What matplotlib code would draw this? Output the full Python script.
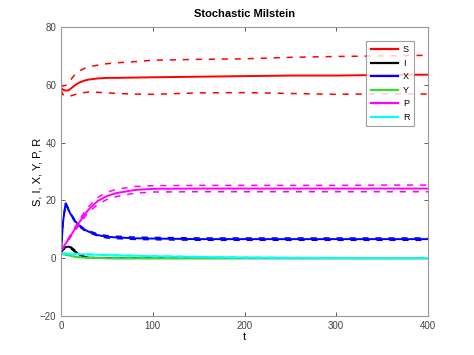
import matplotlib
matplotlib.use("Agg")
import matplotlib.pyplot as plt

t = [0, 2, 5, 8, 10, 15, 20, 25, 30, 40, 50, 60, 80, 100, 150, 200, 250, 300, 350, 400]

S_mean = [59, 58.3, 58.0, 58.1, 58.5, 59.8, 60.8, 61.4, 61.8, 62.2, 62.4, 62.4, 62.5, 62.6, 62.8, 63.0, 63.2, 63.2, 63.4, 63.5]
S_up = [60, 59.6, 59.8, 60.5, 61.5, 63.5, 64.8, 65.6, 66.2, 66.8, 67.3, 67.6, 68.0, 68.5, 68.8, 69.0, 69.5, 69.8, 70.0, 70.2]
S_lo = [58.2, 56.6, 56.2, 56.0, 56.1, 56.6, 57.1, 57.3, 57.5, 57.4, 57.2, 57.0, 56.8, 56.7, 57.2, 57.3, 57.0, 56.7, 56.9, 56.8]

I_mean = [1.8, 3.0, 3.8, 4.0, 3.8, 2.5, 1.2, 0.5, 0.2, 0.08, 0.03, 0.0, 0, 0, 0, 0, 0, 0, 0, 0]
I_up = [1.9, 3.2, 4.1, 4.3, 4.1, 2.8, 1.4, 0.65, 0.3, 0.12, 0.05, 0.02, 0, 0, 0, 0, 0, 0, 0, 0]
I_lo = [1.7, 2.8, 3.5, 3.7, 3.5, 2.2, 1.0, 0.35, 0.1, 0.04, 0.01, 0.0, 0, 0, 0, 0, 0, 0, 0, 0]

X_mean = [1.5, 12.0, 19.0, 17.0, 15.5, 13.0, 11.2, 10.0, 9.2, 8.0, 7.4, 7.2, 6.9, 6.8, 6.6, 6.6, 6.6, 6.6, 6.6, 6.6]
X_up = [1.6, 12.3, 19.3, 17.3, 15.8, 13.3, 11.5, 10.3, 9.5, 8.4, 7.8, 7.6, 7.3, 7.2, 7.0, 7.0, 7.0, 7.0, 7.0, 7.0]
X_lo = [1.4, 11.7, 18.7, 16.7, 15.2, 12.7, 10.9, 9.7, 8.9, 7.7, 7.0, 6.8, 6.5, 6.4, 6.2, 6.2, 6.2, 6.2, 6.2, 6.2]

Y_mean = [1.8, 1.5, 1.2, 1.0, 0.85, 0.55, 0.3, 0.2, 0.1, 0.05, 0.0, 0, 0, 0, 0, 0, 0, 0, 0, 0]
Y_up = [1.9, 1.6, 1.3, 1.1, 0.95, 0.65, 0.4, 0.3, 0.15, 0.08, 0.02, 0, 0, 0, 0, 0, 0, 0, 0, 0]
Y_lo = [1.7, 1.4, 1.1, 0.9, 0.75, 0.45, 0.2, 0.1, 0.05, 0.02, 0.0, 0, 0, 0, 0, 0, 0, 0, 0, 0]

P_mean = [2.5, 3.5, 5.0, 6.5, 7.5, 10.0, 12.4, 14.8, 16.8, 19.8, 21.5, 22.5, 23.6, 24.0, 24.1, 24.1, 24.1, 24.1, 24.1, 24.1]
P_up = [2.5, 3.6, 5.2, 6.8, 7.9, 10.6, 13.2, 15.7, 17.8, 21.0, 22.8, 23.8, 24.8, 25.1, 25.2, 25.2, 25.2, 25.2, 25.3, 25.3]
P_lo = [2.5, 3.4, 4.8, 6.2, 7.1, 9.4, 11.6, 13.9, 15.8, 18.6, 20.3, 21.3, 22.5, 22.9, 23.0, 23.0, 23.0, 23.0, 23.0, 23.0]

R_mean = [1.5, 1.6, 1.6, 1.6, 1.55, 1.5, 1.4, 1.35, 1.3, 1.2, 1.1, 1.0, 0.85, 0.7, 0.45, 0.25, 0.15, 0.1, 0.05, 0.0]
R_up = [1.6, 1.7, 1.7, 1.7, 1.65, 1.6, 1.5, 1.45, 1.4, 1.3, 1.2, 1.1, 0.95, 0.8, 0.55, 0.35, 0.22, 0.15, 0.1, 0.05]
R_lo = [1.4, 1.5, 1.5, 1.5, 1.45, 1.4, 1.3, 1.25, 1.2, 1.1, 1.0, 0.9, 0.75, 0.6, 0.35, 0.15, 0.08, 0.05, 0.0, 0.0]

names = ["S", "I", "X", "Y", "P", "R"]
colors = ["#ff0000", "#000000", "#0000ff", "#33dd33", "#ff00ff", "#00ffff"]
means = [S_mean, I_mean, X_mean, Y_mean, P_mean, R_mean]
ups = [S_up, I_up, X_up, Y_up, P_up, R_up]
los = [S_lo, I_lo, X_lo, Y_lo, P_lo, R_lo]

plt.rcParams['font.family'] = ['Liberation Sans', 'DejaVu Sans']
fig = plt.figure(figsize=(4.74, 3.55), dpi=100)
ax = fig.add_axes([61/474, 1 - 316/355, 367/474, 289/355])

handles = []
for n, c, m, u, l in zip(names, colors, means, ups, los):
    h, = ax.plot(t, m, color=c, lw=1.4, label=n)
    ax.plot(t, u, color=c, lw=1.1, ls=(0, (4, 4.5)))
    ax.plot(t, l, color=c, lw=1.1, ls=(0, (4, 4.5)))
    handles.append(h)

ax.set_xlim(0, 400)
ax.set_ylim(-20, 80)
ax.set_xticks([0, 100, 200, 300, 400])
ax.set_yticks([-20, 0, 20, 40, 60, 80])
ax.tick_params(direction='in', length=3, labelsize=7, colors='#444444', top=True, right=True, width=0.6)
for sp in ax.spines.values():
    sp.set_color('#999999')
    sp.set_linewidth(0.8)
ax.set_xlabel('t', fontsize=8, labelpad=1)
ax.set_ylabel('S, I, X, Y, P, R', fontsize=8, labelpad=-2)
ax.set_title('Stochastic Milstein', fontsize=8, fontweight='bold', pad=7)

leg = ax.legend(handles=handles, loc='upper right', bbox_to_anchor=(0.962, 0.952),
                borderaxespad=0,
                fontsize=6.5, frameon=True, fancybox=False, edgecolor='#888888',
                handlelength=3.0, handletextpad=0.6, labelspacing=0.5, borderpad=0.5)
leg.get_frame().set_linewidth(0.8)
for line in leg.get_lines():
    line.set_linewidth(1.6)

fig.savefig('out.png', dpi=100)
